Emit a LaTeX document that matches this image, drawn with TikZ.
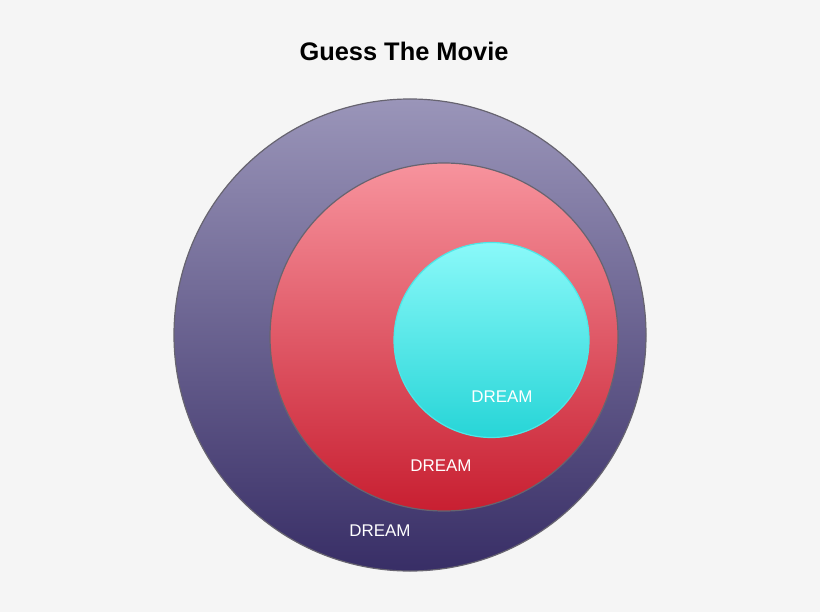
\documentclass[tikz,border=0pt]{standalone}
\usepackage{fontspec}
\setmainfont{Liberation Sans}
\definecolor{bgcol}{HTML}{F5F5F5}
\definecolor{ringline}{HTML}{676470}
\definecolor{outertop}{HTML}{9A95B9}
\definecolor{outerbot}{HTML}{382E66}
\definecolor{midtop}{HTML}{F7939D}
\definecolor{midbot}{HTML}{C81F31}
\definecolor{innertop}{HTML}{8AF9F9}
\definecolor{innerbot}{HTML}{27D5D7}
\definecolor{innerline}{HTML}{4CE8E8}

\begin{document}
\begin{tikzpicture}[x=1bp,y=-1bp]
\tikzstyle{ring}=[draw=ringline,shape=circle,inner sep=0pt,line width=1.2bp,shading=axis]
\tikzstyle{dream}=[text=white,font=\fontsize{17}{20}\selectfont]
\useasboundingbox[fill=bgcol] (0,0) rectangle (820,612);
\path (404,51) node[font=\bfseries\fontsize{25.5}{30}\selectfont](title){Guess The Movie};
\path (410,335) node[ring,minimum size=472bp,top color=outertop,bottom color=outerbot](outer){};
\path (444,337) node[ring,minimum size=348bp,top color=midtop,bottom color=midbot](middle){};
\path (491.5,340) node[ring,draw=innerline,minimum size=195bp,top color=innertop,bottom color=innerbot](inner){};
\path (502,397) node[dream](innerlabel){DREAM};
\path (441,466) node[dream](middlelabel){DREAM};
\path (380,531) node[dream](outerlabel){DREAM};
\end{tikzpicture}
\end{document}
